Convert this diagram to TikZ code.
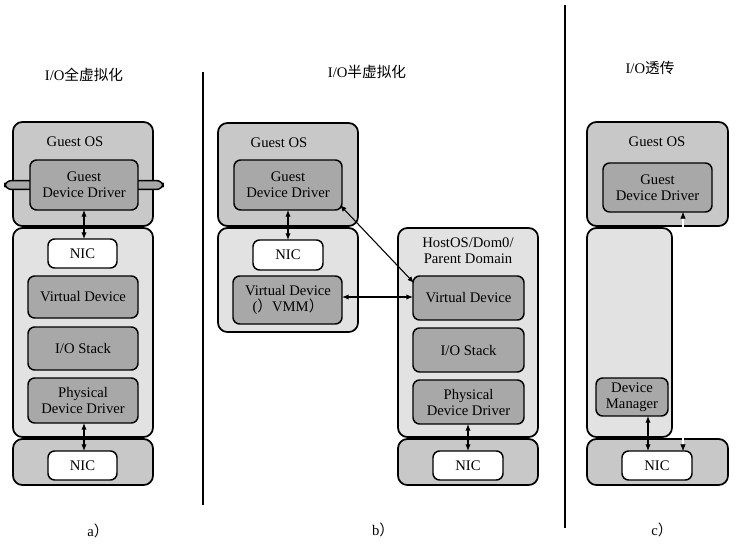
\documentclass[tikz,border=0pt]{standalone}
\usepackage{fontspec}
\setmainfont{Liberation Serif}
\newfontfamily\cjk{Noto Sans CJK SC}
\usetikzlibrary{arrows.meta}
\definecolor{gA}{HTML}{C8C8C8}
\definecolor{gB}{HTML}{A8A8A8}
\definecolor{gC}{HTML}{E2E2E2}
\begin{document}
\begin{tikzpicture}[x=0.75pt,y=-0.75pt,
  box/.style={draw,line width=1.3pt,rounded corners=7pt},
  outer/.style={box,fill=gA},
  light/.style={box,fill=gC},
  inner/.style={box,fill=gB,line width=1.1pt,rounded corners=5pt,align=center,font=\fontsize{11}{12}\selectfont},
  white/.style={box,fill=white,line width=1.1pt,rounded corners=5pt,font=\fontsize{11}{12}\selectfont},
  lab/.style={font=\fontsize{11}{12}\selectfont,align=center},
  arr/.style={{Latex[length=5pt,width=4pt]}-{Latex[length=5pt,width=4pt]},line width=0.8pt}]
\useasboundingbox (0,0) rectangle (745,546);
% panel a
\draw[outer] (13,122) rectangle (153,226);
\node[lab] (ago) at (75,142) {Guest OS};
\draw[light] (13,228) rectangle (153,437);
\draw[outer] (13,439) rectangle (153,485);
\node[inner,minimum width=108\pgflinewidth] (agdd) at (84,185) {};
\draw[inner] (30,160) rectangle (138,210);
\node[lab] (agddt) at (84,185) {Guest\\Device Driver};
\draw[white] (48,239) rectangle (117,268); \node[lab] (anic1) at (82.5,253.5) {NIC};
\draw[inner] (28,276) rectangle (138,318); \node[lab] (avd) at (83,297) {Virtual Device};
\draw[inner] (28,327) rectangle (138,370); \node[lab] (ais) at (83,348.5) {I/O Stack};
\draw[inner] (28,378) rectangle (138,423); \node[lab] (apdd) at (83,400.5) {Physical\\Device Driver};
\draw[white] (48,451) rectangle (117,480); \node[lab] (anic2) at (82.5,465.5) {NIC};
\coordinate (a1) at (84,210); \coordinate (a2) at (84,239);
\coordinate (a3) at (84,423); \coordinate (a4) at (84,451);
\draw[arr] (a1) -- (a2); \draw[arr] (a3) -- (a4);
\node[lab] (ati) at (84,75) {I/O{\cjk 全虚拟化}};
\node[lab] (ala) at (98,531) {a{\cjk ）}};
% dividers
\coordinate (d1) at (203,72); \coordinate (d2) at (203,505);
\coordinate (d3) at (565,5); \coordinate (d4) at (565,528);
\draw[line width=1.5pt] (d1) -- (d2); \draw[line width=1.5pt] (d3) -- (d4);
% panel b
\draw[outer] (218,123) rectangle (358,226);
\node[lab] (bgo) at (279,143) {Guest OS};
\draw[inner] (234,160) rectangle (342,210); \node[lab] (bgdd) at (288,185) {Guest\\Device Driver};
\draw[light] (218,228) rectangle (358,332);
\draw[white] (253,240) rectangle (323,270); \node[lab] (bnic1) at (288,255) {NIC};
\draw[inner] (233,276) rectangle (342,324); \node[lab] (bvmm) at (288,300) {Virtual Device\\({\cjk ）}VMM{\cjk ）}};
\draw[light] (398,228) rectangle (538,437);
\node[lab] (bhost) at (468,251) {HostOS/Dom0/\\Parent Domain};
\draw[inner] (413,276) rectangle (524,320); \node[lab] (bvd) at (468.5,298) {Virtual Device};
\draw[inner] (413,328) rectangle (524,372); \node[lab] (bis) at (468.5,350) {I/O Stack};
\draw[inner] (413,380) rectangle (524,424); \node[lab] (bpdd) at (468.5,402) {Physical\\Device Driver};
\draw[outer] (398,439) rectangle (538,485);
\draw[white] (433,451) rectangle (503,480); \node[lab] (bnic2) at (468,465.5) {NIC};
\coordinate (b1) at (288,210); \coordinate (b2) at (288,240);
\coordinate (b3) at (340,205); \coordinate (b4) at (414,283);
\coordinate (b5) at (342,297); \coordinate (b6) at (413,297);
\coordinate (b7) at (468,424); \coordinate (b8) at (468,451);
\draw[arr] (b1) -- (b2); \draw[arr] (b3) -- (b4); \draw[arr] (b5) -- (b6); \draw[arr] (b7) -- (b8);
\node[lab] (bti) at (367,72) {I/O{\cjk 半虚拟化}};
\node[lab] (bla) at (383,530) {b{\cjk ）}};
% panel c
\draw[outer] (587,122) rectangle (728,226);
\node[lab] (cgo) at (657,142) {Guest OS};
\draw[inner] (603,163) rectangle (712,212); \node[lab] (cgdd) at (657.5,187.5) {Guest\\Device Driver};
\draw[light] (587,228) rectangle (672,437);
\draw[inner] (596,378) rectangle (668,416); \node[lab] (cdm) at (632,397) {Device\\Manager};
\draw[outer] (587,439) rectangle (728,485);
\draw[white] (622,451) rectangle (692,480); \node[lab] (cnic) at (657,465.5) {NIC};
\coordinate (c1) at (648,416); \coordinate (c2) at (648,451);
\coordinate (c3) at (683,212); \coordinate (c4) at (683,451);
\draw[arr] (c1) -- (c2);
\draw[arr,double,double distance=0.8pt,line width=0.4pt] (c3) -- (c4);
\node[lab] (cti) at (650,68) {I/O{\cjk 透传}};
\node[lab] (cla) at (662,530) {c{\cjk ）}};
\end{tikzpicture}
\end{document}
